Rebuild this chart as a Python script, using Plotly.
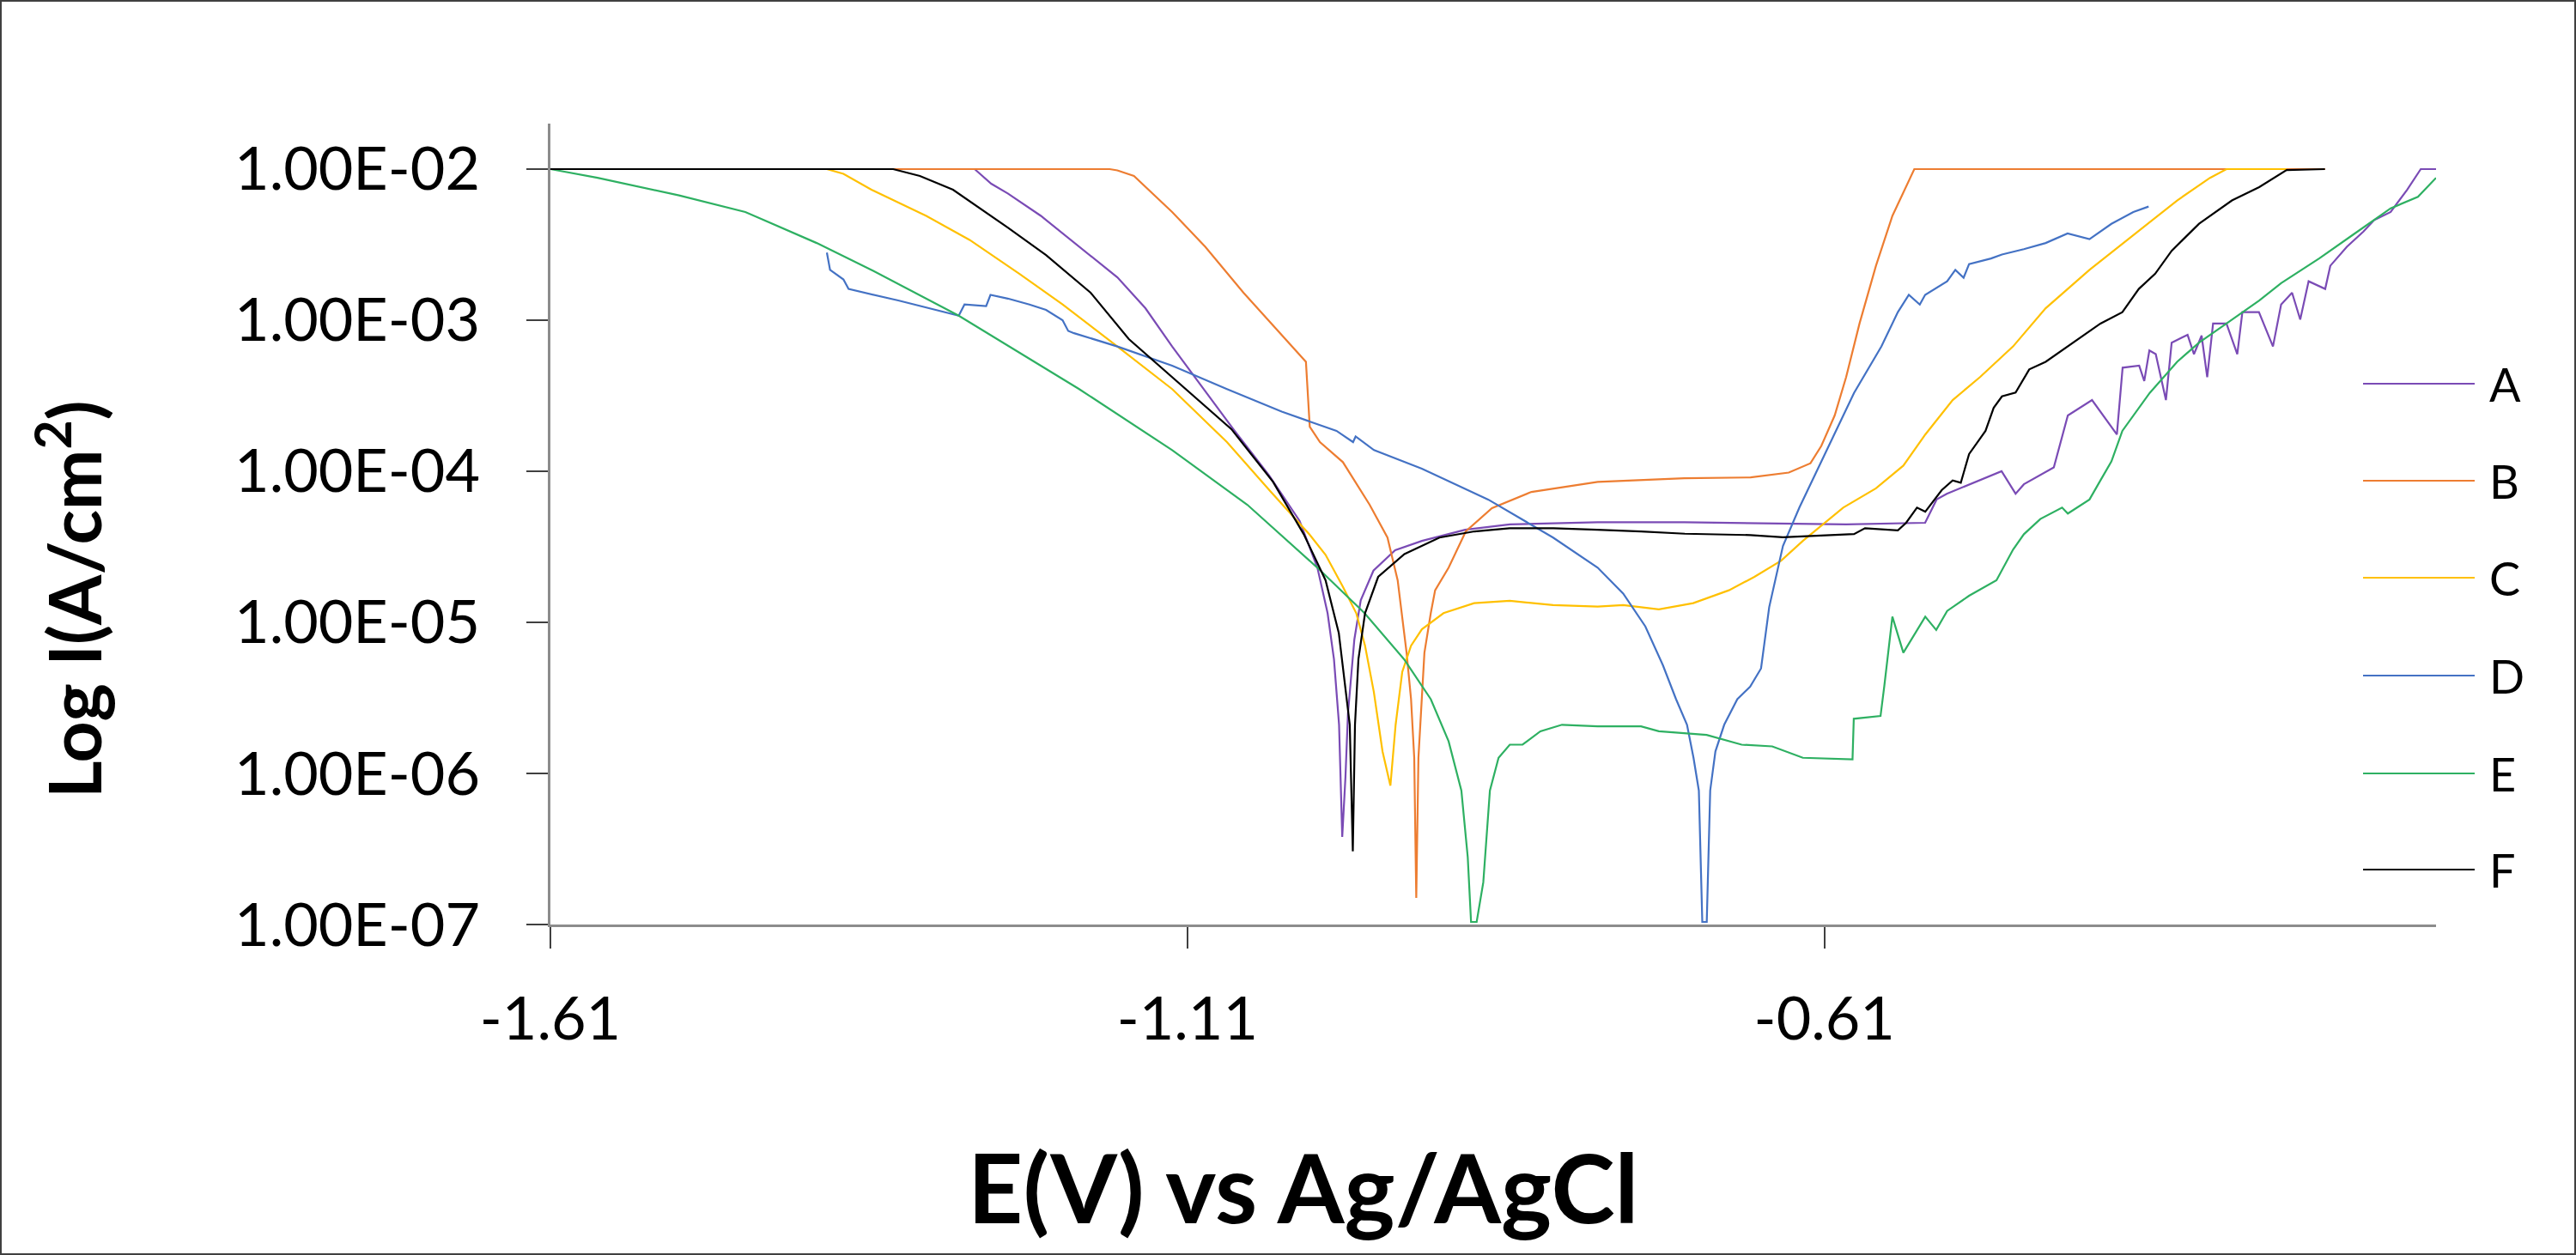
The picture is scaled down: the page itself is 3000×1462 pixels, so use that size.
import plotly.graph_objects as go

# ---------------- data (E in V vs Ag/AgCl, I in A/cm2) ----------------
E_A = [-1.61, -1.277, -1.264, -1.251, -1.225, -1.195, -1.165, -1.143, -1.122,
       -1.074, -1.046, -1.022, -1.008, -1.000, -0.995, -0.991, -0.9885, -0.986, -0.984,
       -0.979, -0.974, -0.964, -0.947, -0.926, -0.892, -0.857, -0.788, -0.720, -0.651, -0.593,
       -0.531, -0.522, -0.514, -0.488, -0.471, -0.460, -0.4535, -0.430, -0.419, -0.400,
       -0.385, -0.3805, -0.376, -0.363, -0.359, -0.355, -0.350, -0.342, -0.3375, -0.325,
       -0.320, -0.314, -0.3096, -0.305, -0.2945, -0.286, -0.282, -0.269, -0.258, -0.2516,
       -0.243, -0.2366, -0.230, -0.217, -0.213, -0.200, -0.187, -0.1785, -0.1656, -0.1527,
       -0.142, -0.130]
I_A = [1.0e-2, 1.0e-2, 8.0e-3, 6.9e-3, 4.9e-3, 3.06e-3, 1.92e-3, 1.2e-3, 6.7e-4,
       1.9e-4, 9.4e-5, 4.7e-5, 2.3e-5, 1.15e-5, 5.7e-6, 2.1e-6, 3.8e-7, 9.4e-7, 2.5e-6,
       7.7e-6, 1.4e-5, 2.2e-5, 3.0e-5, 3.46e-5, 4.1e-5, 4.45e-5, 4.6e-5, 4.6e-5, 4.5e-5, 4.45e-5,
       4.56e-5, 6.5e-5, 7.1e-5, 8.7e-5, 1.0e-4, 7.1e-5, 8.2e-5, 1.06e-4, 2.34e-4, 2.96e-4,
       1.96e-4, 1.75e-4, 4.85e-4, 5.0e-4, 3.96e-4, 6.3e-4, 5.96e-4, 2.96e-4, 7.1e-4, 8.0e-4,
       5.96e-4, 7.9e-4, 4.2e-4, 9.5e-4, 9.5e-4, 5.96e-4, 1.13e-3, 1.13e-3, 6.7e-4, 1.27e-3,
       1.52e-3, 1.01e-3, 1.81e-3, 1.61e-3, 2.29e-3, 3.06e-3, 3.86e-3, 4.6e-3, 5.2e-3, 7.3e-3,
       1.0e-2, 1.0e-2]

E_B = [-1.61, -1.171, -1.165, -1.152, -1.122, -1.096, -1.066, -1.036, -1.017, -1.014,
       -1.006, -0.988, -0.967, -0.953, -0.945, -0.938, -0.9345, -0.932, -0.9304, -0.9287,
       -0.926, -0.924, -0.919, -0.9156, -0.905, -0.8915, -0.871, -0.840, -0.788, -0.720,
       -0.668, -0.638, -0.621, -0.6125, -0.602, -0.593, -0.5825, -0.5696, -0.5567, -0.5395,
       -0.217]
I_B = [1.0e-2, 1.0e-2, 9.8e-3, 9.0e-3, 5.2e-3, 3.06e-3, 1.52e-3, 8.0e-4, 5.3e-4, 1.97e-4,
       1.56e-4, 1.15e-4, 6.0e-5, 3.64e-5, 1.9e-5, 6.3e-6, 3.1e-6, 1.27e-6, 1.5e-7, 1.27e-6,
       3.1e-6, 6.3e-6, 1.15e-5, 1.63e-5, 2.3e-5, 4.0e-5, 5.7e-5, 7.3e-5, 8.5e-5, 9.0e-5,
       9.1e-5, 9.8e-5, 1.13e-4, 1.47e-4, 2.34e-4, 4.2e-4, 9.5e-4, 2.29e-3, 4.9e-3, 1.0e-2,
       1.0e-2]

E_C = [-1.61, -1.393, -1.380, -1.358, -1.315, -1.281, -1.242, -1.208, -1.165, -1.122,
       -1.079, -1.0445, -1.014, -1.0016, -0.988, -0.9775, -0.9706, -0.9637, -0.9569, -0.9507,
       -0.9466, -0.9414, -0.9345, -0.926, -0.909, -0.885, -0.857, -0.823, -0.788, -0.768,
       -0.740, -0.713, -0.685, -0.665, -0.644, -0.627, -0.5953, -0.5696, -0.5481, -0.5309,
       -0.5094, -0.4879, -0.462, -0.4364, -0.402, -0.3676, -0.3332, -0.3074, -0.2945, -0.2473]
I_C = [1.0e-2, 1.0e-2, 9.3e-3, 7.3e-3, 4.9e-3, 3.4e-3, 2.03e-3, 1.27e-3, 6.7e-4, 3.5e-4,
       1.56e-4, 7.3e-5, 3.8e-5, 2.8e-5, 1.72e-5, 1.15e-5, 7.0e-6, 3.46e-6, 1.4e-6, 8.3e-7,
       2.1e-6, 4.7e-6, 7.0e-6, 9.0e-6, 1.15e-5, 1.34e-5, 1.39e-5, 1.3e-5, 1.27e-5, 1.3e-5,
       1.22e-5, 1.34e-5, 1.63e-5, 2.0e-5, 2.56e-5, 3.46e-5, 5.75e-5, 7.7e-5, 1.09e-4, 1.75e-4,
       2.96e-4, 4.2e-4, 6.7e-4, 1.2e-3, 2.15e-3, 3.64e-3, 6.2e-3, 8.75e-3, 1.0e-2, 1.0e-2]

E_D = [-1.393, -1.3905, -1.380, -1.376, -1.337, -1.2895, -1.285, -1.268, -1.2646, -1.251,
       -1.234, -1.221, -1.208, -1.2036, -1.199, -1.165, -1.122, -1.079, -1.036, -0.993,
       -0.980, -0.978, -0.9636, -0.926, -0.874, -0.823, -0.788, -0.768, -0.7506, -0.7368,
       -0.7265, -0.7179, -0.7128, -0.7086, -0.7059, -0.7024, -0.6997, -0.6956, -0.6887, -0.6784,
       -0.6684, -0.6598, -0.6534, -0.6426, -0.6297, -0.6082, -0.5868, -0.5653, -0.5524, -0.5438,
       -0.5352, -0.531, -0.5137, -0.5073, -0.5008, -0.4965, -0.4793, -0.4707, -0.4535, -0.4364,
       -0.4192, -0.402, -0.3848, -0.3676, -0.3556]
I_D = [2.8e-3, 2.15e-3, 1.86e-3, 1.61e-3, 1.35e-3, 1.07e-3, 1.27e-3, 1.24e-3, 1.47e-3, 1.39e-3,
       1.27e-3, 1.17e-3, 1.0e-3, 8.5e-4, 8.2e-4, 6.7e-4, 5.0e-4, 3.5e-4, 2.48e-4, 1.85e-4,
       1.56e-4, 1.7e-4, 1.38e-4, 1.04e-4, 6.5e-5, 3.64e-5, 2.3e-5, 1.55e-5, 9.4e-6, 5.2e-6,
       3.1e-6, 2.1e-6, 1.27e-6, 7.7e-7, 1.04e-7, 1.04e-7, 7.7e-7, 1.4e-6, 2.1e-6, 3.1e-6,
       3.75e-6, 4.95e-6, 1.26e-5, 3.2e-5, 5.75e-5, 1.38e-4, 3.3e-4, 6.7e-4, 1.13e-3, 1.47e-3,
       1.27e-3, 1.47e-3, 1.81e-3, 2.15e-3, 1.91e-3, 2.35e-3, 2.56e-3, 2.72e-3, 2.95e-3, 3.24e-3,
       3.75e-3, 3.44e-3, 4.34e-3, 5.2e-3, 5.65e-3]

E_E = [-1.61, -1.573, -1.509, -1.457, -1.401, -1.358, -1.2895, -1.195, -1.122, -1.063,
       -1.008, -0.971, -0.940, -0.919, -0.905, -0.895, -0.890, -0.8874, -0.883, -0.8778,
       -0.8726, -0.8658, -0.857, -0.847, -0.833, -0.816, -0.788, -0.754, -0.740, -0.7025,
       -0.675, -0.651, -0.627, -0.593, -0.588, -0.587, -0.566, -0.5631, -0.5567, -0.5481,
       -0.5309, -0.5223, -0.5137, -0.4965, -0.475, -0.462, -0.4535, -0.4406, -0.4235, -0.419,
       -0.402, -0.3934, -0.3848, -0.3762, -0.3547, -0.3332, -0.316, -0.2945, -0.2688, -0.2516,
       -0.2215, -0.1957, -0.1656, -0.1442, -0.130]
I_E = [1.0e-2, 8.75e-3, 6.7e-3, 5.2e-3, 3.24e-3, 2.15e-3, 1.07e-3, 3.5e-4, 1.38e-4, 6.0e-5,
       2.3e-5, 1.15e-5, 5.7e-6, 3.1e-6, 1.63e-6, 7.7e-7, 2.8e-7, 1.04e-7, 1.04e-7, 1.9e-7,
       7.7e-7, 1.27e-6, 1.55e-6, 1.55e-6, 1.9e-6, 2.1e-6, 2.05e-6, 2.05e-6, 1.9e-6, 1.8e-6,
       1.55e-6, 1.51e-6, 1.27e-6, 1.24e-6, 1.24e-6, 2.3e-6, 2.4e-6, 3.75e-6, 1.09e-5, 6.3e-6,
       1.09e-5, 8.9e-6, 1.19e-5, 1.5e-5, 1.9e-5, 3.03e-5, 3.83e-5, 4.83e-5, 5.75e-5, 5.25e-5,
       6.5e-5, 8.7e-5, 1.16e-4, 1.85e-4, 3.3e-4, 5.3e-4, 7.1e-4, 9.5e-4, 1.35e-3, 1.76e-3,
       2.57e-3, 3.65e-3, 5.5e-3, 6.55e-3, 8.75e-3]

E_F = [-1.61, -1.341, -1.320, -1.294, -1.251, -1.221, -1.186, -1.156,
       -1.0755, -1.0428, -1.0187, -1.0016, -0.9912, -0.9861, -0.9826, -0.9802, -0.9785, -0.9758,
       -0.9706, -0.9603, -0.9397, -0.9122, -0.8847, -0.8572, -0.8228, -0.7884, -0.754, -0.7196,
       -0.6681, -0.6426, -0.5868, -0.5782, -0.5524, -0.5459, -0.5374, -0.5309, -0.518, -0.5094,
       -0.503, -0.4965, -0.4836, -0.4772, -0.4707, -0.46, -0.4493, -0.4364, -0.4192, -0.3934,
       -0.3762, -0.3633, -0.3504, -0.3375, -0.316, -0.2902, -0.2688, -0.2473, -0.2172]
I_F = [1.0e-2, 1.0e-2, 9.0e-3, 7.3e-3, 4.1e-3, 2.7e-3, 1.52e-3, 7.5e-4,
       1.9e-4, 8.5e-5, 3.83e-5, 1.9e-5, 8.5e-6, 3.8e-6, 2.1e-6, 3.05e-7, 2.1e-6, 5.7e-6,
       1.15e-5, 2.0e-5, 2.83e-5, 3.64e-5, 4.0e-5, 4.2e-5, 4.2e-5, 4.1e-5, 4.0e-5, 3.86e-5,
       3.78e-5, 3.66e-5, 3.84e-5, 4.2e-5, 4.06e-5, 4.56e-5, 5.75e-5, 5.4e-5, 7.5e-5, 8.7e-5,
       8.4e-5, 1.3e-4, 1.85e-4, 2.63e-4, 3.13e-4, 3.32e-4, 4.72e-4, 5.3e-4, 6.7e-4, 9.5e-4,
       1.13e-3, 1.61e-3, 2.03e-3, 2.88e-3, 4.35e-3, 6.2e-3, 7.6e-3, 9.86e-3, 1.0e-2]

SERIES_NAMES = ["A", "B", "C", "D", "E", "F"]
SERIES_COLORS = ["#7A4BB5", "#ED7D31", "#FFC000", "#4472C4", "#2EB062", "#000000"]

X_TICKS = [-1.61, -1.11, -0.61]
X_TICK_TEXT = ["-1.61", "-1.11", "-0.61"]
Y_TICKS = [1e-7, 1e-6, 1e-5, 1e-4, 1e-3, 1e-2]
Y_TICK_TEXT = ["1.00E-07", "1.00E-06", "1.00E-05", "1.00E-04", "1.00E-03", "1.00E-02"]

# ---------------- figure ----------------
W, H = 3000, 1462
L, R, T, B = 641, 2837, 144, 1077


def px(x):
    return (x - L) / (R - L)


def py(y):
    return (B - y) / (B - T)


data = [(E_A, I_A), (E_B, I_B), (E_C, I_C), (E_D, I_D), (E_E, I_E), (E_F, I_F)]
fig = go.Figure()
for (e, i), name, col in zip(data, SERIES_NAMES, SERIES_COLORS):
    fig.add_trace(go.Scatter(x=e, y=i, mode="lines", name=name,
                             line=dict(color=col, width=2.2), showlegend=False))

FONT = "Lato"
fig.update_layout(
    width=W, height=H, autosize=False,
    margin=dict(l=L, r=W - R, t=T, b=H - B, pad=0),
    paper_bgcolor="white", plot_bgcolor="white",
    showlegend=False,
)
fig.update_xaxes(range=[-1.61, -0.13], tickmode="array", tickvals=X_TICKS, ticktext=X_TICK_TEXT,
                 showline=True, linecolor="#8c8c8c", linewidth=3, mirror=False,
                 ticks="outside", ticklen=25, tickwidth=2, tickcolor="#404040",
                 showgrid=False, zeroline=False, ticklabelstandoff=22,
                 tickfont=dict(family=FONT, size=70, color="black"))
fig.update_yaxes(type="log", range=[-7, -1.699], tickmode="array", tickvals=Y_TICKS, ticktext=Y_TICK_TEXT,
                 showline=True, linecolor="#8c8c8c", linewidth=3, mirror=False,
                 ticks="outside", ticklen=25, tickwidth=2, tickcolor="#404040",
                 showgrid=False, zeroline=False, ticklabelstandoff=40,
                 tickfont=dict(family=FONT, size=70, color="black"))

annotations = [
    dict(text="<b>E(V) vs Ag/AgCl</b>", x=px(1517), y=py(1381), xref="paper", yref="paper",
         xanchor="center", yanchor="middle", showarrow=False,
         font=dict(family=FONT, size=112, color="black")),
    dict(text="<b>Log I(A/cm<sup>2</sup>)</b>", x=px(80), y=py(698), xref="paper", yref="paper",
         xanchor="center", yanchor="middle", showarrow=False, textangle=-90,
         font=dict(family=FONT, size=84, color="black")),
]
shapes = [
    dict(type="rect", xref="paper", yref="paper", x0=px(1), x1=px(2999), y0=py(1461), y1=py(1),
         line=dict(color="#404040", width=2), fillcolor="rgba(0,0,0,0)", layer="below"),
]
LEG_Y = [447, 560, 673, 787, 901, 1013]
for name, col, ly in zip(SERIES_NAMES, SERIES_COLORS, LEG_Y):
    shapes.append(dict(type="line", xref="paper", yref="paper", x0=px(2752), x1=px(2882),
                       y0=py(ly), y1=py(ly), line=dict(color=col, width=2.2)))
    annotations.append(dict(text=name, x=px(2897), y=py(ly), xref="paper", yref="paper",
                            xanchor="left", yanchor="middle", showarrow=False,
                            font=dict(family=FONT, size=54, color="black")))
fig.update_layout(annotations=annotations, shapes=shapes)

fig.write_html("out.html")
